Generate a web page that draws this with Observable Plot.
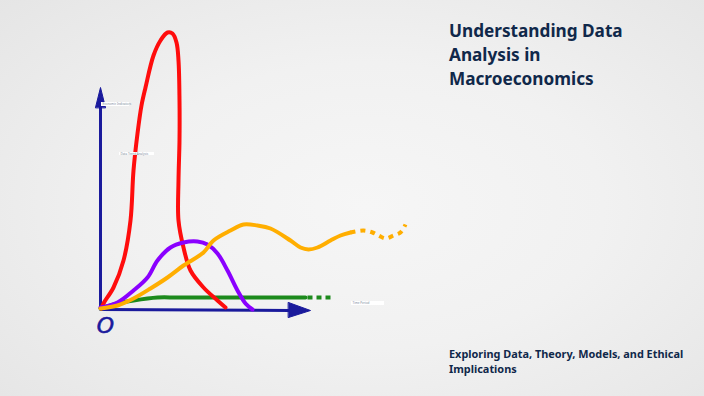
<!DOCTYPE html>
<html>
<head>
<meta charset="utf-8">
<script src="https://cdn.jsdelivr.net/npm/d3@7"></script>
<script src="https://cdn.jsdelivr.net/npm/@observablehq/plot@0.6"></script>
<style>
  html, body { margin: 0; padding: 0; }
  body { width: 704px; height: 396px; overflow: hidden;
    background: radial-gradient(ellipse 75% 80% at 52% 52%, #f6f6f6 0%, #f1f1f1 45%, #e4e4e4 100%); }
  #wrap { position: relative; width: 704px; height: 396px; }
  #chart { position: absolute; left: 0; top: 0; }
  .title { position: absolute; left: 449px; top: 19px; font-family: "Noto Sans", sans-serif;
    font-weight: 700; font-size: 17.2px; line-height: 24px; color: #10284a; white-space: nowrap; }
  .subtitle { position: absolute; left: 449px; top: 346px; font-family: "Noto Sans", sans-serif;
    font-weight: 700; font-size: 10.9px; line-height: 15px; color: #10284a; white-space: nowrap; }
  .line { display: block; transform-origin: left center; }
</style>
</head>
<body>
<div id="wrap">
  <div id="chart"></div>
  <div class="title" id="title"></div>
  <div class="subtitle" id="subtitle"></div>
</div>
<script>
// ---- Data (x: time units from origin, y: value units from origin) ----
const redX = [1, 3, 13, 23, 30, 33, 37, 41, 45, 53, 60, 67, 72, 76, 78, 79, 79, 78, 78, 83, 90, 103, 117, 125];
const redY = [0, 5, 21, 48, 88, 138, 175, 203, 221, 253, 268, 276, 275, 266, 248, 208, 168, 128, 88, 61, 38, 21, 8, 1];

const purpleX = [0, 17, 33, 47, 57, 70, 83, 97, 107, 117, 127, 137, 145, 152];
const purpleY = [1, 6, 18, 31, 48, 61, 66, 67, 64, 55, 38, 18, 5, -1];

const orangeX = [0, 17, 33, 50, 67, 83, 103, 113, 130, 143, 157, 170, 190, 200, 208, 217, 230, 240, 250];
const orangeY = [0, 3, 10, 20, 31, 43, 56, 68, 78, 84, 83, 80, 68, 61, 59, 61, 68, 73, 76];
const orangeDotX = [250, 263, 272, 278, 285, 293, 300, 305];
const orangeDotY = [76, 78, 76, 73, 70, 73, 76, 84];

const greenX = [0, 17, 33, 57, 77, 123, 205];
const greenY = [0, 5, 8, 11, 11, 11, 11];
const greenDotX = [207, 230];
const greenDotY = [11, 11];

// axes (arrow shafts and heads)
const xAxisX = [0, 190];
const xAxisY = [-1, -2];
const xHeadX = [188, 210, 188];
const xHeadY = [6, -2, -9];
const yAxisX = [0, 0];
const yAxisY = [0, 205];
const yHeadX = [-5, 0, 5];
const yHeadY = [201, 221, 201];

// small annotation labels
const labelText = ["Economic Indicators", "Data Trend Analysis", "Time Period"];
const labelX1 = [1, 19, 251];
const labelX2 = [29, 54, 284];
const labelY1 = [202, 153, 3];
const labelY2 = [206, 156, 7];

const originLabel = ["O"];

const titleLines = ["Understanding Data", "Analysis in", "Macroeconomics"];
const subtitleLines = ["Exploring Data, Theory, Models, and Ethical", "Implications"];

// ---- Build tables ----
const zip = (xs, ys) => xs.map((x, i) => ({x, y: ys[i]}));
const red = zip(redX, redY);
const purple = zip(purpleX, purpleY);
const orange = zip(orangeX, orangeY);
const orangeDot = zip(orangeDotX, orangeDotY);
const green = zip(greenX, greenY);
const greenDot = zip(greenDotX, greenDotY);
const xAxis = zip(xAxisX, xAxisY);
const xHead = zip(xHeadX, xHeadY);
const yAxis = zip(yAxisX, yAxisY);
const yHead = zip(yHeadX, yHeadY);
const labels = labelText.map((t, i) => ({t, x1: labelX1[i], x2: labelX2[i], y1: labelY1[i], y2: labelY2[i]}));

const navy = "#1a1a9c";
const sw = 4;

const chart = Plot.plot({
  width: 704,
  height: 396,
  margin: 0,
  x: {domain: [-100, 604], axis: null},
  y: {domain: [-88, 308], axis: null},
  style: {background: "none", overflow: "visible"},
  marks: [
    Plot.line(yAxis, {x: "x", y: "y", stroke: navy, strokeWidth: 3}),
    Plot.line(xAxis, {x: "x", y: "y", stroke: navy, strokeWidth: 3}),
    Plot.line(yHead, {x: "x", y: "y", stroke: navy, fill: navy, strokeWidth: 1, curve: "linear-closed"}),
    Plot.line(xHead, {x: "x", y: "y", stroke: navy, fill: navy, strokeWidth: 1, curve: "linear-closed"}),
    Plot.line(green, {x: "x", y: "y", stroke: "#1c8a1c", strokeWidth: sw, curve: "catmull-rom"}),
    Plot.line(greenDot, {x: "x", y: "y", stroke: "#1c8a1c", strokeWidth: sw, strokeDasharray: "5,4", strokeLinecap: "butt"}),
    Plot.line(red, {x: "x", y: "y", stroke: "#ff0d0d", strokeWidth: sw, curve: "catmull-rom", strokeLinecap: "round"}),
    Plot.line(purple, {x: "x", y: "y", stroke: "#8a00ff", strokeWidth: sw, curve: "catmull-rom", strokeLinecap: "round"}),
    Plot.line(orange, {x: "x", y: "y", stroke: "#ffae00", strokeWidth: sw, curve: "catmull-rom", strokeLinecap: "round"}),
    Plot.line(orangeDot, {x: "x", y: "y", stroke: "#ffae00", strokeWidth: sw, curve: "catmull-rom", strokeDasharray: "5,5", strokeLinecap: "butt"}),
    Plot.rect(labels, {x1: "x1", x2: "x2", y1: "y1", y2: "y2", fill: "white"}),
    Plot.text(labels, {x: "x1", y: d => (d.y1 + d.y2) / 2, text: "t", fontSize: 3, fill: "#7a8a9a", textAnchor: "start", dx: 1}),
    Plot.text(originLabel, {x: 5, y: -17, text: d => d, fontSize: 22, fontStyle: "italic", fill: navy, stroke: navy, strokeWidth: 0.6, fontFamily: "DejaVu Sans", fontWeight: 400})
  ]
});
document.getElementById("chart").appendChild(chart);

function fill(id, lines) {
  const el = document.getElementById(id);
  lines.forEach(t => {
    const s = document.createElement("span");
    s.className = "line";
    s.textContent = t;
    el.appendChild(s);
  });
}
fill("title", titleLines);
fill("subtitle", subtitleLines);
</script>
</body>
</html>
